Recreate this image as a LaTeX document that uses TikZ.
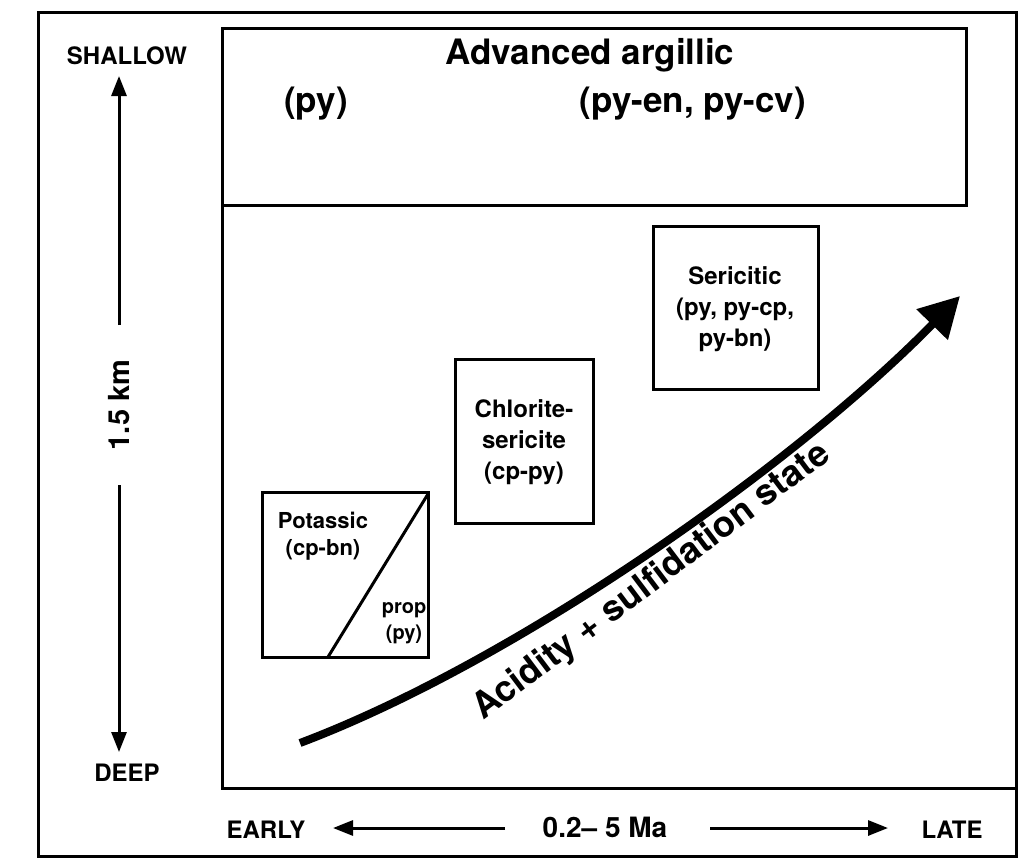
\documentclass[tikz,border=0pt]{standalone}
\usepackage{fontspec}
\setmainfont{TeX Gyre Heros}
\usetikzlibrary{arrows.meta}
\begin{document}
\begin{tikzpicture}[x=1pt,y=-1pt,
  frame/.style={draw,line width=3pt},
  lbl/.style={font=\bfseries\fontsize{24}{27}\selectfont,align=center},
  boxtxt/.style={font=\bfseries\fontsize{24}{31}\selectfont,align=center},
  big/.style={font=\bfseries\fontsize{35}{38}\selectfont},
  axarrow/.style={line width=3pt,-{Triangle[length=20pt,width=15pt]}}]
\useasboundingbox (0,0) rectangle (1026,860);
\draw[frame] (38,12) rectangle (1016,856);
\draw[frame] (222,28) rectangle (966,205);
\draw[frame] (222,205) -- (222,788) -- (1016,788);
\node[big] (aa) at (590,55) {Advanced argillic};
\node[big] (py) at (316,104) {(py)};
\node[big] (pyen) at (693,104) {(py-en, py-cv)};
% vertical axis
\node[lbl] (sh) at (127,56) {SHALLOW};
\node[lbl] (dp) at (127,773) {DEEP};
\node[lbl,font=\bfseries\fontsize{29}{32}\selectfont,rotate=90] (km) at (119,405) {1.5 km};
\coordinate (vt) at (119,76);
\coordinate (vb) at (119,752);
\draw[axarrow] (119,325) -- (vt);
\draw[axarrow] (119,485) -- (vb);
% horizontal axis
\node[lbl] (ea) at (266,830) {EARLY};
\node[lbl] (la) at (952,830) {LATE};
\node[lbl,font=\bfseries\fontsize{28}{30}\selectfont] (ma) at (605,827) {0.2-- 5 Ma};
\coordinate (hl) at (333,828);
\coordinate (hr) at (888,828);
\draw[axarrow] (505,828) -- (hl);
\draw[axarrow] (710,828) -- (hr);
% boxes
\draw[frame] (653,226) rectangle (818,389);
\node[boxtxt] (ser) at (735,309) {Sericitic\\(py, py-cp,\\py-bn)};
\draw[frame] (455,359) rectangle (593,523);
\node[boxtxt] (chl) at (524,442) {Chlorite-\\sericite\\(cp-py)};
\draw[frame] (262,492) rectangle (428,657);
\draw[line width=3pt] (428,494) -- (328,657);
\node[boxtxt,font=\bfseries\fontsize{22}{27}\selectfont] (pot) at (323,536) {Potassic\\(cp-bn)};
\node[boxtxt,font=\bfseries\fontsize{20}{26}\selectfont] (prop) at (404,623) {prop\\(py)};
% curved arrow
\coordinate (cs) at (300,743);
\coordinate (ce) at (960,296);
\draw[line width=8pt,-{Triangle[length=40pt,width=42pt]}] (cs) .. controls (520,660) and (800,460) .. (ce);
\node[font=\bfseries\fontsize{36}{38}\selectfont,rotate=37] (ac) at (652,582) {Acidity + sulfidation state};
\end{tikzpicture}
\end{document}
